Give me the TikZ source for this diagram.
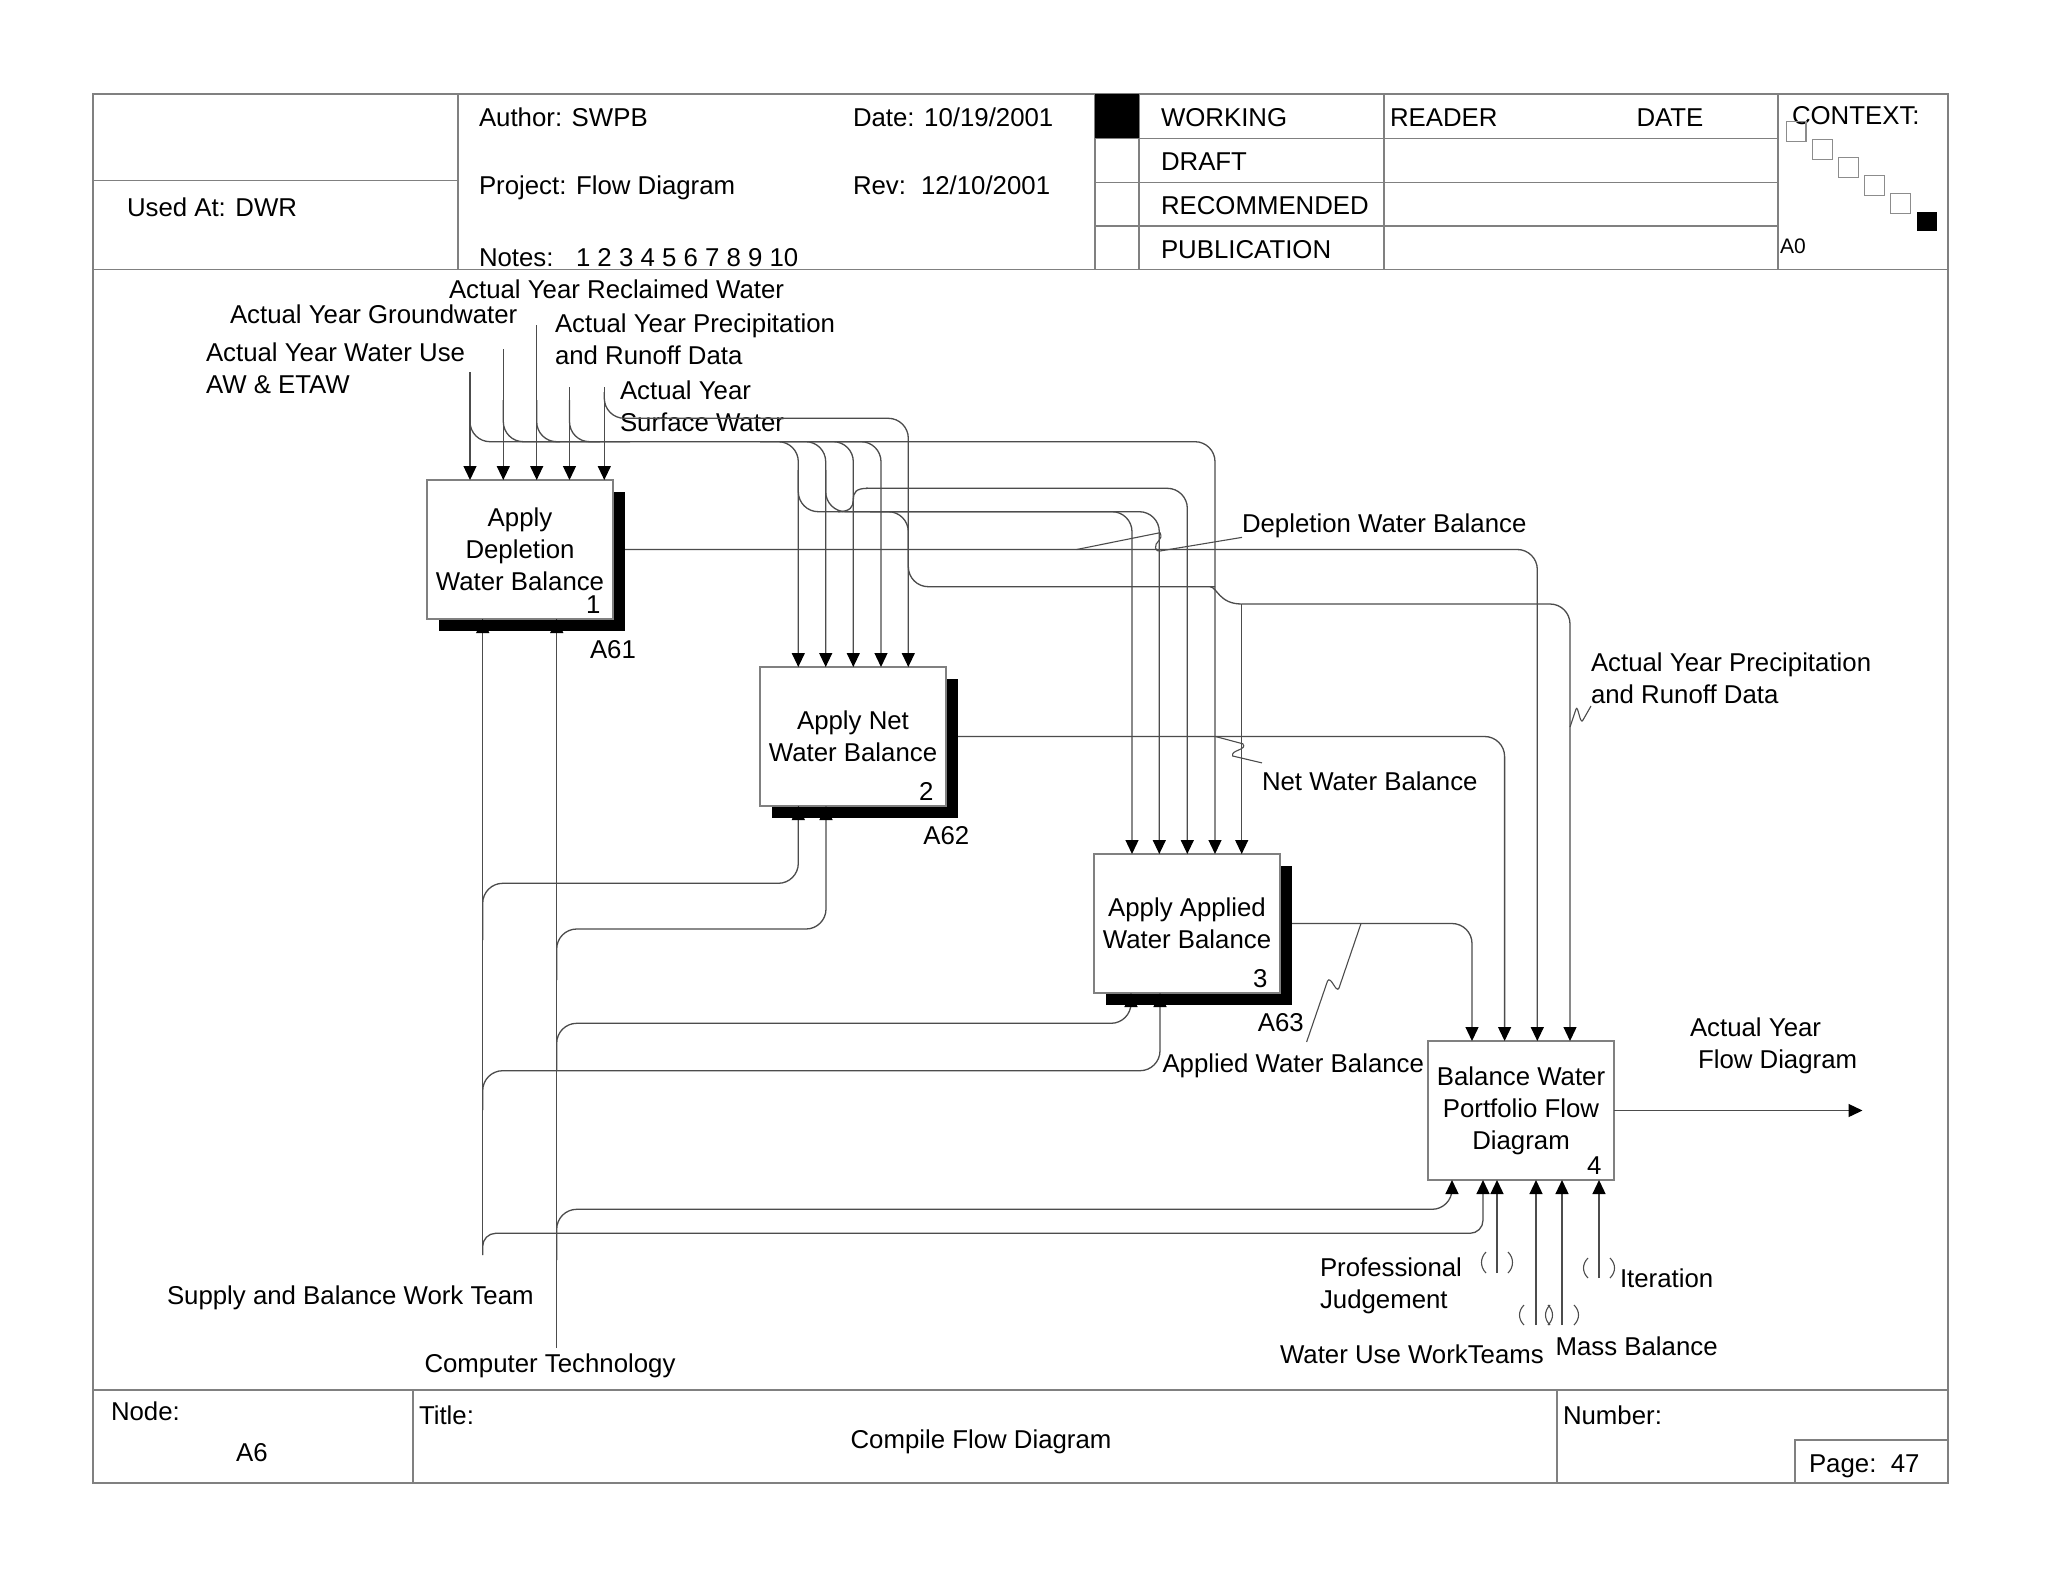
\documentclass[tikz,border=0pt]{standalone}
\usepackage{fontspec}
\setmainfont{Liberation Sans}
\usetikzlibrary{arrows.meta}
\begin{document}
\begin{tikzpicture}[x=1pt,y=-1pt,
  every node/.style={font=\fontsize{25.8}{32}\selectfont, inner sep=0pt, outer sep=0pt},
  frame/.style={draw=black!50, line width=1.5pt},
  conn/.style={draw=black!70, line width=1.3pt, rounded corners=20pt},
  arr/.style={-{Triangle[width=13pt,length=14pt,color=black]}},
  boxst/.style={draw=black!50, fill=white, line width=1.5pt, minimum width=186pt, minimum height=139pt, align=center, anchor=north west},
  lbl/.style={anchor=base west},
  lbl2/.style={anchor=west, align=left},
  num/.style={anchor=base east},
  tun/.style={draw=black!70, line width=1.1pt},
  lead/.style={draw=black!70, line width=1.1pt},
]
\useasboundingbox (0,0) rectangle (2048,1582);
\fill[white] (0,0) rectangle (2048,1582);

% ---------- frame ----------
\draw[frame] (93,94) rectangle (1948,1483);
\draw[frame] (93,269.5) -- (1948,269.5);
\draw[frame] (93,180.5) -- (458,180.5);
\draw[frame] (458,94) -- (458,269.5);
\draw[frame] (1095,94) -- (1095,269.5);
\draw[frame] (1138.8,94) -- (1138.8,269.5);
\draw[frame] (1384,94) -- (1384,269.5);
\draw[frame] (1778,94) -- (1778,269.5);
\draw[frame] (1095,138.3) -- (1778,138.3);
\draw[frame] (1095,182.3) -- (1778,182.3);
\draw[frame] (1095,226) -- (1778,226);
\fill[black] (1095,94) rectangle (1138.8,138.3);
\draw[frame] (93,1390) -- (1948,1390);
\draw[frame] (413,1390) -- (413,1483);
\draw[frame] (1557,1390) -- (1557,1483);
\draw[frame] (1795,1483) -- (1795,1440) -- (1948,1440);

% header texts
\node[lbl] (hUsed) at (127,216) {Used At: DWR};
\node[lbl] (hAuth) at (479,126) {Author: SWPB};
\node[lbl] (hDate) at (853,126) {Date: 10/19/2001};
\node[lbl] (hProj) at (479,194) {Project: Flow Diagram};
\node[lbl] (hRev) at (853,194) {Rev:};
\node[lbl] (hRevD) at (921,194) {12/10/2001};
\node[lbl] (hNotes) at (479,266) {Notes:};
\node[lbl] (hNums) at (576,266) {1 2 3 4 5 6 7 8 9 10};
\node[lbl] (hWork) at (1161,126) {WORKING};
\node[lbl] (hDraft) at (1161,170) {DRAFT};
\node[lbl] (hRecom) at (1161,214) {RECOMMENDED};
\node[lbl] (hPub) at (1161,258.5) {PUBLICATION};
\node[lbl] (hReader) at (1390,126) {READER};
\node[lbl] (hRDate) at (1636.5,126) {DATE};
\node[lbl] (hCtx) at (1792,124) {CONTEXT:};
\node[lbl, font=\fontsize{21}{25}\selectfont] (hA0) at (1780,253) {A0};
\foreach \i in {0,...,4} {
  \draw[draw=black!45, line width=1.1pt] ({1786.5+26.1*\i},{121.7+18*\i}) rectangle ++(19.5,20);
}
\fill[black] (1917,211.7) rectangle ++(19.5,19.5);

% footer texts
\node[lbl] (fNode) at (111,1420) {Node:};
\node[anchor=base] (fA6) at (252,1461) {A6};
\node[lbl] (fTitle) at (419,1424) {Title:};
\node[anchor=base] (fName) at (981,1448) {Compile Flow Diagram};
\node[lbl] (fNum) at (1563,1424) {Number:};
\node[lbl] (fPage) at (1809,1472) {Page:\ \ 47};

% ---------- boxes ----------
\fill[black] (439,492) rectangle (625,631);
\fill[black] (772,679) rectangle (958,818);
\fill[black] (1106,866) rectangle (1292,1005);
\node[boxst] (b1) at (427,480) {Apply\\Depletion\\Water Balance};
\node[boxst] (b2) at (760,667) {Apply Net\\Water Balance};
\node[boxst] (b3) at (1094,854) {Apply Applied\\Water Balance};
\node[boxst] (b4) at (1428,1041) {Balance Water\\Portfolio Flow\\Diagram};
\node[num] (n1) at ([xshift=-12.5pt,yshift=5.5pt]b1.south east) {1};
\node[num] (n2) at ([xshift=-12.5pt,yshift=5.5pt]b2.south east) {2};
\node[num] (n3) at ([xshift=-12.5pt,yshift=5.5pt]b3.south east) {3};
\node[num] (n4) at ([xshift=-12.5pt,yshift=5.5pt]b4.south east) {4};
\node[lbl] (a61) at (590,658) {A61};
\node[lbl] (a62) at (923.4,844.6) {A62};
\node[lbl] (a63) at (1257.8,1031.4) {A63};

% ---------- input labels ----------
\node[lbl] (tRW) at (449,298) {Actual Year Reclaimed Water};
\node[lbl] (tGW) at (230,323) {Actual Year Groundwater};
\node[lbl2] (tPR) at (555,339.5) {Actual Year Precipitation\\and Runoff Data};
\node[lbl2] (tWU) at (206,368.3) {Actual Year Water Use\\AW \& ETAW};
\node[lbl2] (tSW) at (620,406) {Actual Year\\Surface Water};

\coordinate (iWU) at (470,372);
\coordinate (iGW) at (503.3,349);
\coordinate (iRW) at (536.7,325);
\coordinate (iPR) at (569.5,387);
\coordinate (iSW) at (604.3,387);

% inputs to box 1
\draw[conn,arr] (iWU) -- (470,0 |- b1.north);
\draw[conn,arr] (iGW) -- (503.3,0 |- b1.north);
\draw[conn,arr] (iRW) -- (536.7,0 |- b1.north);
\draw[conn,arr] (iPR) -- (569.5,0 |- b1.north);
\draw[conn,arr] (iSW) -- (604.3,0 |- b1.north);

% bus y=441.7
\draw[conn,arr] (470,400) -- (470,441.7) -- (1215,441.7) -- (1215,0 |- b3.north);
\draw[conn] (503.3,400) -- (503.3,441.7) -- (560,441.7);
\draw[conn] (536.7,400) -- (536.7,441.7) -- (600,441.7);
\draw[conn] (569.5,400) -- (569.5,441.7) -- (630,441.7);
\draw[conn,arr] (760,441.7) -- (798.3,441.7) -- (798.3,0 |- b2.north);
\draw[conn,arr] (780,441.7) -- (825.7,441.7) -- (825.7,0 |- b2.north);
\draw[conn,arr] (810,441.7) -- (853.3,441.7) -- (853.3,0 |- b2.north);
\draw[conn,arr] (840,441.7) -- (881,441.7) -- (881,0 |- b2.north);
% surface water
\draw[conn,arr] (604.3,392) -- (604.3,418.3) -- (908.3,418.3) -- (908.3,0 |- b2.north);

% second tier to box 3
\draw[conn,arr] (798.3,470) -- (798.3,511.7) -- (1132,511.7) -- (1132,0 |- b3.north);
\draw[conn,arr] (825.7,470) -- (825.7,511.7) -- (1159.3,511.7) -- (1159.3,0 |- b3.north);
\draw[draw=black!70, line width=1.3pt] (838,511.7) .. controls (850,511.7) and (853.3,507) .. (853.3,500)
   .. controls (853.3,492) and (856,488.3) .. (868,488.3);
\draw[conn,arr] (866,488.3) -- (1187.3,488.3) -- (1187.3,0 |- b3.north);
\draw[conn] (870,511.7) -- (908.3,511.7) -- (908.3,586.7) -- (1215,586.7);
\draw[draw=black!70, line width=1.3pt] (1210,586.7) .. controls (1217,587) and (1219,604) .. (1241.7,604);
\draw[conn,arr] (1241.7,604) -- (1570,604) -- (1570,0 |- b4.north);
\draw[conn,arr] (1241.7,604) -- (1241.7,0 |- b3.north);

% outputs
\draw[conn,arr] ([xshift=12pt]b1.east) -- (1537.3,0 |- b1.east) -- (1537.3,0 |- b4.north);
\draw[conn,arr] ([xshift=12pt]b2.east) -- (1504.6,0 |- b2.east) -- (1504.6,0 |- b4.north);
\draw[conn,arr] ([xshift=12pt]b3.east) -- (1472,0 |- b3.east) -- (1472,0 |- b4.north);
\coordinate (o4) at (1862.5,1110.5);
\draw[conn,arr] (b4.east) -- (o4);
\node[lbl] (tOut1) at (1690,1036) {Actual Year};
\node[lbl] (tOut2) at (1698,1068) {Flow Diagram};

% output labels and leaders
\node[lbl] (tDep) at (1242,532) {Depletion Water Balance};
\draw[lead] (1076.7,549.5) -- (1160,532.7) .. controls (1164,540) and (1154,542) .. (1155.5,548)
   .. controls (1156,551) and (1158,551) .. (1160,551) -- (tDep.south west);
\node[lbl] (tNet) at (1262,790) {Net Water Balance};
\draw[lead] (1215.4,736.5) -- (1242.8,743.8) .. controls (1248,750) and (1230,750) .. (1232.7,756) -- (1262,762.9);
\node[lbl] (tApp) at (1162.5,1072) {Applied Water Balance};
\draw[lead] (1361,923.5) -- (1339,988) .. controls (1336,994) and (1331,975) .. (1327.5,981) -- (1306.6,1042);
\node[lbl2] (tPR2) at (1591,678) {Actual Year Precipitation\\and Runoff Data};
\draw[lead] (1570,727) -- (1576,709) .. controls (1578,704) and (1580,726) .. (1583,720) -- (1591,706);

% mechanisms
\coordinate (sup) at (482.7,1255);
\coordinate (comp) at (556.7,1348);
\draw[conn,arr] (sup) -- (482.7,0 |- b1.south);
\draw[conn,arr] (comp) -- (556.7,0 |- b1.south);
\draw[conn,arr] (482.7,940) -- (482.7,883.3) -- (798.3,883.3) -- (798.3,0 |- b2.south);
\draw[conn,arr] (556.7,980) -- (556.7,929) -- (826,929) -- (826,0 |- b2.south);
\draw[conn,arr] (556.7,1070) -- (556.7,1023.3) -- (1131,1023.3) -- (1131,0 |- b3.south);
\draw[conn,arr] (482.7,1110) -- (482.7,1070.7) -- (1160,1070.7) -- (1160,0 |- b3.south);
\draw[conn,arr] (556.7,1260) -- (556.7,1209.3) -- (1452,1209.3) -- (1452,0 |- b4.south);
\draw[conn,arr,rounded corners=13pt] (sup) -- (482.7,1233.3) -- (1483,1233.3) -- (1483,0 |- b4.south);
\node[lbl] (tSup) at (167,1304) {Supply and Balance Work Team};
\node[lbl] (tComp) at (424.5,1372) {Computer Technology};

% controls from below box 4
\coordinate (cPJ) at (1497,1273);
\coordinate (cWT) at (1536,1325);
\coordinate (cMB) at (1562,1325);
\coordinate (cIT) at (1599,1278);
\draw[conn,arr] (cPJ) -- (1497,0 |- b4.south);
\draw[conn,arr] (cWT) -- (1536,0 |- b4.south);
\draw[conn,arr] (cMB) -- (1562,0 |- b4.south);
\draw[conn,arr] (cIT) -- (1599,0 |- b4.south);
\draw[tun] (1486,1252) .. controls (1480,1258) and (1480,1267) .. (1486,1273);
\draw[tun] (1508,1252) .. controls (1514,1258) and (1514,1267) .. (1508,1273);
\draw[tun] (1588,1258) .. controls (1582,1264) and (1582,1272) .. (1588,1278);
\draw[tun] (1610,1258) .. controls (1616,1264) and (1616,1272) .. (1610,1278);
\draw[tun] (1524,1305) .. controls (1518,1311) and (1518,1319) .. (1524,1325);
\draw[tun] (1548,1305) .. controls (1554,1311) and (1554,1319) .. (1548,1325);
\draw[tun] (1550,1305) .. controls (1544,1311) and (1544,1319) .. (1550,1325);
\draw[tun] (1574,1305) .. controls (1580,1311) and (1580,1319) .. (1574,1325);
\node[lbl2] (tPJ) at (1320,1286) {Professional\\Judgement};
\node[lbl] (tWT) at (1280,1363) {Water Use WorkTeams};
\node[lbl] (tMB) at (1555.6,1355) {Mass Balance};
\node[lbl] (tIT) at (1620,1287) {Iteration};
\end{tikzpicture}
\end{document}
